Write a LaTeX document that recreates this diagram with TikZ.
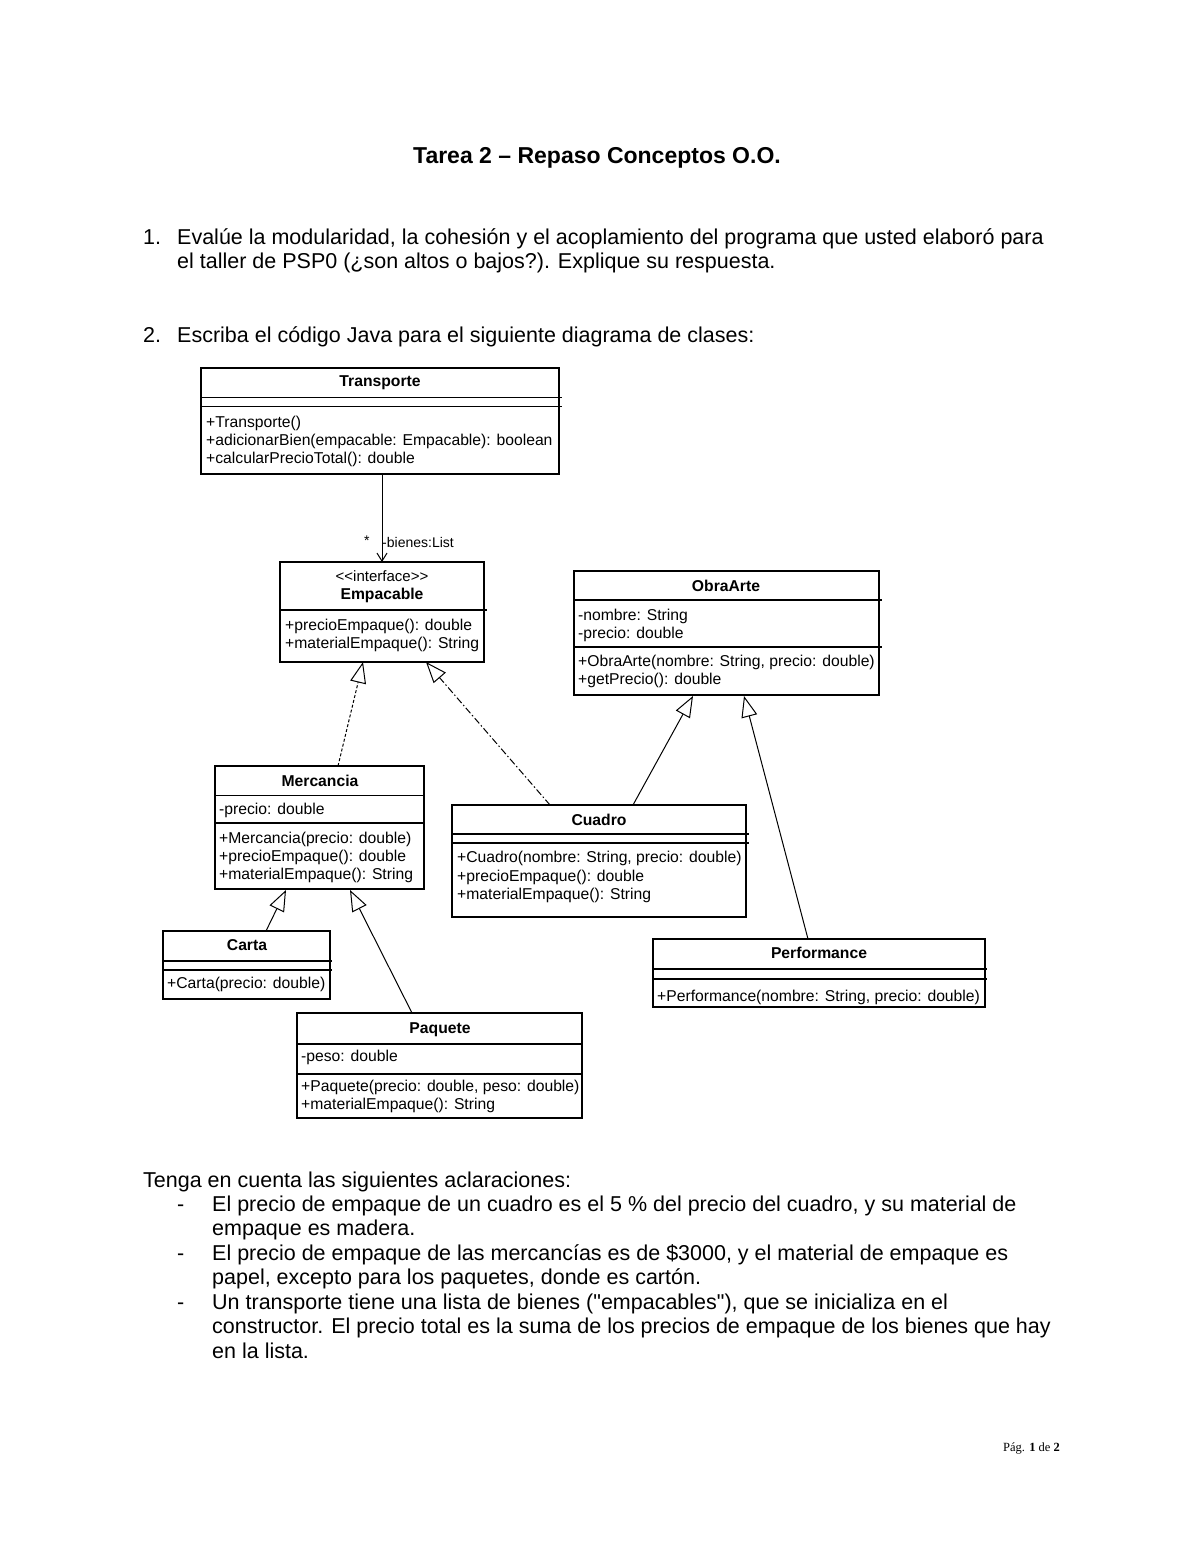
\documentclass[tikz,border=0pt]{standalone}
\usepackage{fontspec}
\setmainfont{Liberation Sans}
\newfontfamily\plainsans{Liberation Sans}
\newfontfamily\pagefont{Liberation Serif}
\usetikzlibrary{arrows.meta}
\begin{document}
\begin{tikzpicture}[x=1pt,y=-1pt,
  box/.style={draw, line width=1.1pt, rectangle, inner sep=0pt, outer sep=0pt, anchor=north west},
  sepline/.style={line width=1.1pt},
  cname/.style={font=\fontsize{15.7}{18}\selectfont\bfseries, anchor=base, inner sep=0pt},
  stereo/.style={font=\fontsize{15}{18}\selectfont, anchor=base, inner sep=0pt},
  mem/.style={font=\fontsize{15.7}{18}\selectfont, anchor=base west, inner sep=0pt},
  body/.style={font=\fontsize{21.5}{24}\selectfont, anchor=base west, inner sep=0pt},
  lbl/.style={font=\fontsize{14}{16}\selectfont, anchor=base west, inner sep=0pt},
  gen/.style={-{Triangle[open, length=21pt, width=16pt, fill=white]}, line width=1pt},
  assoc/.style={-{Straight Barb[length=8pt, width=10pt]}, line width=1pt},
]
\useasboundingbox (0,0) rectangle (1200,1553);
\fill[white] (0,0) rectangle (1200,1553);

% ---------- title and questions ----------
\node[font=\fontsize{23}{26}\selectfont\bfseries, anchor=base, inner sep=0pt] (title) at (597,163) {Tarea 2 – Repaso Conceptos O.O.};
\node[body] (q1n) at (143,244) {1.};
\node[body] (q1a) at (177,244) {Evalúe la modularidad, la cohesión y el acoplamiento del programa que usted elaboró para};
\node[body] (q1b) at (177,268) {el taller de PSP0 (¿son altos o bajos?). Explique su respuesta.};
\node[body] (q2n) at (143,342) {2.};
\node[body] (q2a) at (177,342) {Escriba el código Java para el siguiente diagrama de clases:};

% ---------- Transporte ----------
\node[box, minimum width=358pt, minimum height=106pt] (transporte) at (201,368) {};
\draw[sepline] (201,397.5) -- (562,397.5);
\draw[sepline] (201,406.5) -- (562,406.5);
\node[cname] (transporteN) at (380,386) {Transporte};
\node[mem] (transporteM1) at (206,427) {+Transporte()};
\node[mem] (transporteM2) at (206,445) {+adicionarBien(empacable: Empacable): boolean};
\node[mem] (transporteM3) at (206,463) {+calcularPrecioTotal(): double};

% ---------- Empacable ----------
\node[box, minimum width=204pt, minimum height=100pt] (empacable) at (280,562) {};
\draw[sepline] (280,610) -- (487,610);
\node[stereo] (empacableS) at (382,581) {{<}{<}interface{>}{>}};
\node[cname] (empacableN) at (382,599) {Empacable};
\node[mem] (empacableM1) at (285,630) {+precioEmpaque(): double};
\node[mem] (empacableM2) at (285,648) {+materialEmpaque(): String};

% ---------- ObraArte ----------
\node[box, minimum width=305pt, minimum height=124pt] (obraarte) at (574,571) {};
\draw[sepline] (574,600) -- (882,600);
\draw[sepline] (574,647) -- (882,647);
\node[cname] (obraarteN) at (726,591) {ObraArte};
\node[mem] (obraarteA1) at (578,620) {-nombre: String};
\node[mem] (obraarteA2) at (578,638) {-precio: double};
\node[mem] (obraarteM1) at (578,666) {+ObraArte(nombre: String, precio: double)};
\node[mem] (obraarteM2) at (578,684) {+getPrecio(): double};

% ---------- Mercancia ----------
\node[box, minimum width=209pt, minimum height=123pt] (mercancia) at (215,766) {};
\draw[sepline] (215,795.5) -- (424,795.5);
\draw[sepline] (215,823) -- (424,823);
\node[cname] (mercanciaN) at (320,786) {Mercancia};
\node[mem] (mercanciaA1) at (219,814) {-precio: double};
\node[mem] (mercanciaM1) at (219,843) {+Mercancia(precio: double)};
\node[mem] (mercanciaM2) at (219,861) {+precioEmpaque(): double};
\node[mem] (mercanciaM3) at (219,879) {+materialEmpaque(): String};

% ---------- Cuadro ----------
\node[box, minimum width=294pt, minimum height=112pt] (cuadro) at (452,805) {};
\draw[sepline] (452,834) -- (749,834);
\draw[sepline] (452,843) -- (749,843);
\node[cname] (cuadroN) at (599,825) {Cuadro};
\node[mem] (cuadroM1) at (457,862) {+Cuadro(nombre: String, precio: double)};
\node[mem] (cuadroM2) at (457,881) {+precioEmpaque(): double};
\node[mem] (cuadroM3) at (457,899) {+materialEmpaque(): String};

% ---------- Carta ----------
\node[box, minimum width=167pt, minimum height=68pt] (carta) at (163,931) {};
\draw[sepline] (163,961) -- (332,961);
\draw[sepline] (163,970) -- (332,970);
\node[cname] (cartaN) at (247,950) {Carta};
\node[mem] (cartaM1) at (167,988) {+Carta(precio: double)};

% ---------- Paquete ----------
\node[box, minimum width=285pt, minimum height=105pt] (paquete) at (297,1013) {};
\draw[sepline] (297,1044) -- (582,1044);
\draw[sepline] (297,1074) -- (582,1074);
\node[cname] (paqueteN) at (440,1033) {Paquete};
\node[mem] (paqueteA1) at (301,1061) {-peso: double};
\node[mem] (paqueteM1) at (301,1091) {+Paquete(precio: double, peso: double)};
\node[mem] (paqueteM2) at (301,1109) {+materialEmpaque(): String};

% ---------- Performance ----------
\node[box, minimum width=332pt, minimum height=68pt] (performance) at (653,939) {};
\draw[sepline] (653,969) -- (987,969);
\draw[sepline] (653,979) -- (987,979);
\node[cname] (performanceN) at (819,958) {Performance};
\node[mem] (performanceM1) at (657,1001) {+Performance(nombre: String, precio: double)};

% ---------- connector end points ----------
\coordinate (transB) at (382,474);
\coordinate (empT) at (382,562);
\coordinate (empB1) at (363,662);
\coordinate (empB2) at (426,662);
\coordinate (obraB1) at (693,696);
\coordinate (obraB2) at (744,696);
\coordinate (mercT) at (338,766);
\coordinate (mercB1) at (286,890);
\coordinate (mercB2) at (350,890);
\coordinate (cuadroT1) at (550,805);
\coordinate (cuadroT2) at (633,805);
\coordinate (cartaT) at (266,931);
\coordinate (paqueteT) at (412,1013);
\coordinate (perfT) at (808,939);

% ---------- connectors ----------
\draw[assoc] (transB) -- (empT);
\node[lbl] (star) at (364,545) {*};
\node[lbl] (bienes) at (382,547) {-bienes:List};
\draw[gen, dash pattern=on 3pt off 2pt] (mercT) -- (empB1);
\draw[gen, dash pattern=on 7pt off 2.5pt on 1.5pt off 2.5pt] (cuadroT1) -- (empB2);
\draw[gen] (cuadroT2) -- (obraB1);
\draw[gen] (perfT) -- (obraB2);
\draw[gen] (cartaT) -- (mercB1);
\draw[gen] (paqueteT) -- (mercB2);

% ---------- clarifications ----------
\node[body] (nota) at (143,1187) {Tenga en cuenta las siguientes aclaraciones:};
\node[body] (d1) at (177,1211) {-};
\node[body] (n1a) at (212,1211) {El precio de empaque de un cuadro es el 5 \% del precio del cuadro, y su material de};
\node[body] (n1b) at (212,1235.5) {empaque es madera.};
\node[body] (d2) at (177,1260) {-};
\node[body] (n2a) at (212,1260) {El precio de empaque de las mercancías es de \$3000, y el material de empaque es};
\node[body] (n2b) at (212,1284.5) {papel, excepto para los paquetes, donde es cartón.};
\node[body] (d3) at (177,1309) {-};
\node[body] (n3a) at (212,1309) {Un transporte tiene una lista de bienes ({\plainsans"}empacables{\plainsans"}), que se inicializa en el};
\node[body] (n3b) at (212,1333.5) {constructor. El precio total es la suma de los precios de empaque de los bienes que hay};
\node[body] (n3c) at (212,1358) {en la lista.};

% ---------- page number ----------
\node[font=\pagefont\fontsize{12.5}{14}\selectfont, anchor=base east, inner sep=0pt] (pagina) at (1060,1451) {Pág. \textbf{1} de \textbf{2}};
\end{tikzpicture}
\end{document}
